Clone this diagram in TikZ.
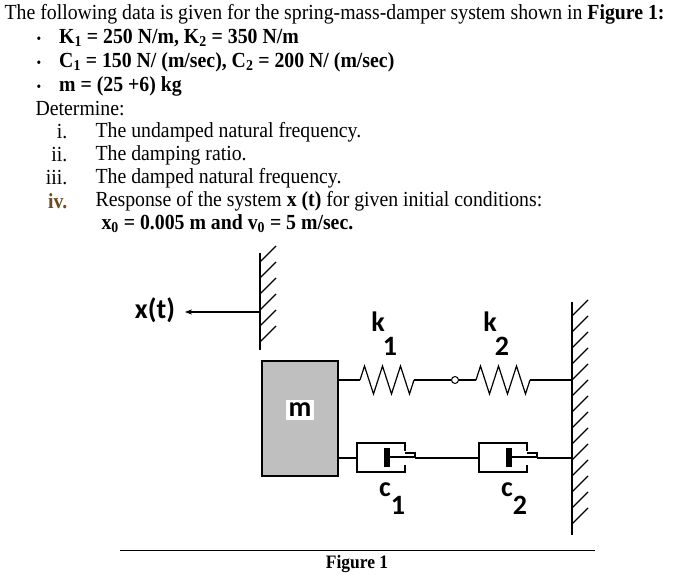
\documentclass[tikz,border=0pt]{standalone}
\usepackage{fontspec}
\setmainfont{Liberation Serif}[FakeStretch=0.92]
\newfontfamily\diag{Carlito}
\usetikzlibrary{decorations.pathmorphing,arrows.meta}
\definecolor{brownish}{RGB}{110,75,30}
\begin{document}
\begin{tikzpicture}[x=1pt,y=-1pt,line width=1.2pt,
  txt/.style={anchor=west,inner sep=0,font=\fontsize{21.5}{24}\selectfont},
  num/.style={anchor=east,inner sep=0,font=\fontsize{21.5}{24}\selectfont},
  lbl/.style={inner sep=0,font=\diag\bfseries\fontsize{28}{30}\selectfont},
  spring/.style={decorate,decoration={zigzag,segment length=18pt,amplitude=14pt}},
  hatch/.style={line width=1.3pt}]
\useasboundingbox (0,0) rectangle (675,575);
\node[txt] (t0) at (4,14) {The following data is given for the spring-mass-damper system shown in \textbf{Figure 1:}};
\node[txt] (b1) at (36,38) {{\Large\textbullet}\hspace{18pt}\textbf{K\textsubscript{1} = 250 N/m, K\textsubscript{2} = 350 N/m}};
\node[txt] (b2) at (36,62) {{\Large\textbullet}\hspace{18pt}\textbf{C\textsubscript{1} = 150 N/ (m/sec), C\textsubscript{2} = 200 N/ (m/sec)}};
\node[txt] (b3) at (36,86) {{\Large\textbullet}\hspace{18pt}\textbf{m = (25 +6) kg}};
\node[txt] (d) at (35,109) {Determine:};
\node[num] (n1) at (68,132) {i.};
\node[num] (n2) at (68,155) {ii.};
\node[num] (n3) at (68,178) {iii.};
\node[num,text=brownish] (n4) at (68,201) {\textbf{iv.}};
\node[txt] (i1) at (95,132) {The undamped natural frequency.};
\node[txt] (i2) at (95,155) {The damping ratio.};
\node[txt] (i3) at (95,178) {The damped natural frequency.};
\node[txt] (i4) at (95,201) {Response of the system \textbf{x (t)} for given initial conditions:};
\node[txt] (i5) at (101,224) {\textbf{x\textsubscript{0} = 0.005 m and v\textsubscript{0} = 5 m/sec.}};
% left wall
\coordinate (lw1) at (260,253); \coordinate (lw2) at (260,350);
\draw[hatch] (lw1) -- (lw2);
\foreach \y in {262,278,...,346} \draw[hatch] (260,\y) -- (276,\y-16);
\coordinate (xa) at (260,312);
\node[lbl] (xt) at (155,310) {x(t)};
\draw[-{Stealth[length=7pt]}] (xa) -- (185,312);
% mass
\node[draw,fill=gray!50,line width=1.3pt,minimum width=76pt,minimum height=115pt,inner sep=0] (m) at (300,418.5) {};
\node[lbl,fill=white,inner sep=3pt] (ml) at (300,410) {m};
% right wall
\draw[hatch] (572,302) -- (572,535);
\foreach \y in {316,332,...,535} \draw[hatch] (572,\y) -- (588,\y-16);
% springs
\coordinate (s0) at (338,380); \coordinate (s1) at (360,380); \coordinate (s2) at (414,380);
\node[draw,circle,inner sep=0,minimum size=7pt,fill=white,line width=1pt] (j) at (455,380) {};
\coordinate (s3) at (476,380); \coordinate (s4) at (530,380); \coordinate (s5) at (572,380);
\draw (s0) -- (s1); \draw[spring] (s1) -- (s2); \draw (s2) -- (j) -- (s3);
\draw[spring] (s3) -- (s4); \draw (s4) -- (s5);
\node[lbl] (k1) at (378,322) {k}; \node[lbl] (k1s) at (390,346) {1};
\node[lbl] (k2) at (490,322) {k}; \node[lbl] (k2s) at (502,346) {2};
% dampers
\foreach \a in {357,479}{
  \draw (\a+48,451) -- (\a+48,443) -- (\a,443) -- (\a,472) -- (\a+48,472) -- (\a+48,465);
  \fill (\a+27,448) rectangle (\a+33,467);
  \draw (\a+33,457) -- (\a+58,457);
  \draw (\a+48,453) -- (\a+58,453) -- (\a+58,457);
}
\draw (338,458) -- (357,458);
\draw (415,458) -- (479,458);
\draw (537,458) -- (572,458);
\node[lbl] (c1) at (385,490) {c}; \node[lbl] (c1s) at (398,505) {1};
\node[lbl] (c2) at (507,490) {c}; \node[lbl] (c2s) at (520,505) {2};
% bottom line
\draw[line width=1pt] (120,550) -- (595,550);
\node[inner sep=0,font=\bfseries\fontsize{19}{21}\selectfont] (fig) at (357,564) {Figure 1};
\end{tikzpicture}
\end{document}
